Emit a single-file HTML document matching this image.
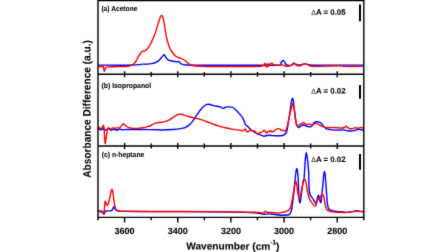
<!DOCTYPE html>
<html><head><meta charset="utf-8"><title>FTIR difference spectra</title>
<style>html,body{margin:0;padding:0;background:#fff;overflow:hidden}body{width:448px;height:252px}</style></head>
<body>
<svg width="448" height="252" viewBox="0 0 448 252" style="display:block">
<rect width="448" height="252" fill="#fff"/>
<defs><filter id="soft" x="0" y="0" width="448" height="252" filterUnits="userSpaceOnUse" color-interpolation-filters="sRGB"><feConvolveMatrix order="3" kernelMatrix="0.01134 0.08382 0.01134 0.08382 0.61935 0.08382 0.01134 0.08382 0.01134" divisor="1" edgeMode="duplicate" preserveAlpha="false"/></filter></defs>
<g filter="url(#soft)">
<g fill="none" stroke-width="1.4" stroke-linejoin="round" stroke-linecap="round">
<path d="M98.50 65.10 C101.37 65.11 115.44 65.21 120.00 65.20 C124.56 65.19 130.17 65.08 132.70 65.00 C135.23 64.92 137.64 64.72 139.00 64.60 C140.36 64.48 141.97 64.15 142.90 64.10 C143.83 64.05 145.16 64.23 146.00 64.20 C146.84 64.17 148.27 64.02 149.20 63.90 C150.13 63.78 151.99 63.58 153.00 63.30 C154.01 63.02 155.95 62.25 156.80 61.80 C157.65 61.35 158.80 60.45 159.40 59.90 C160.00 59.35 160.83 58.26 161.30 57.70 C161.77 57.14 162.53 56.09 162.90 55.70 C163.27 55.31 163.79 54.75 164.10 54.80 C164.41 54.85 164.81 55.54 165.20 56.10 C165.59 56.66 166.51 58.44 167.00 59.00 C167.49 59.56 168.39 60.06 168.90 60.30 C169.41 60.54 170.21 60.67 170.80 60.80 C171.39 60.93 172.61 61.19 173.30 61.30 C173.99 61.41 175.44 61.52 176.00 61.60 C176.56 61.68 177.17 61.93 177.50 61.90 C177.83 61.87 178.03 61.15 178.50 61.40 C178.97 61.65 180.00 63.27 181.00 63.75 C182.00 64.23 182.40 64.80 186.00 65.00 C189.60 65.20 199.47 65.22 208.00 65.25 C216.53 65.28 240.55 65.26 250.00 65.25 C259.45 65.24 274.79 65.46 278.90 65.20 C283.01 64.94 280.39 63.83 280.80 63.30 C281.21 62.77 281.71 61.59 282.00 61.20 C282.29 60.81 282.71 60.37 283.00 60.40 C283.29 60.43 283.83 60.92 284.20 61.40 C284.57 61.88 285.33 63.49 285.80 64.00 C286.27 64.51 286.94 65.04 287.70 65.20 C288.46 65.36 290.59 65.41 291.50 65.20 C292.41 64.99 293.65 63.63 294.50 63.60 C295.35 63.57 296.94 64.87 297.90 65.00 C298.86 65.13 300.77 64.79 301.70 64.60 C302.63 64.41 304.06 63.60 304.90 63.60 C305.74 63.60 307.05 64.39 308.00 64.60 C308.95 64.81 309.07 65.13 312.00 65.20 C314.93 65.27 323.13 65.11 330.00 65.10 C336.87 65.09 359.03 65.10 363.50 65.10" stroke="#0000ff"/>
<path d="M98.50 66.60 C99.03 66.60 101.87 66.73 102.50 66.60 C103.13 66.47 102.97 64.98 103.20 65.60 C103.43 66.22 103.94 70.93 104.25 71.25 C104.56 71.57 105.10 68.58 105.50 68.00 C105.90 67.42 105.98 67.07 107.25 66.90 C108.52 66.73 112.17 66.79 115.00 66.70 C117.83 66.61 126.14 66.43 128.50 66.20 C130.86 65.97 131.89 65.43 132.70 65.00 C133.51 64.57 134.09 63.63 134.60 63.00 C135.11 62.37 135.99 61.14 136.50 60.30 C137.01 59.46 137.89 57.61 138.40 56.70 C138.91 55.79 139.87 54.13 140.30 53.50 C140.73 52.87 141.25 52.31 141.60 52.00 C141.95 51.69 142.47 51.35 142.90 51.20 C143.33 51.05 144.39 51.05 144.80 50.90 C145.21 50.75 145.67 50.38 146.00 50.10 C146.33 49.82 146.95 49.19 147.30 48.80 C147.65 48.41 148.17 47.84 148.60 47.20 C149.03 46.56 149.68 45.69 150.50 44.00 C151.32 42.31 153.68 37.37 154.75 34.50 C155.82 31.63 157.73 24.89 158.50 22.50 C159.27 20.11 160.07 17.55 160.50 16.60 C160.93 15.65 161.42 15.28 161.75 15.40 C162.08 15.52 162.62 16.12 163.00 17.50 C163.38 18.88 164.11 22.98 164.60 25.75 C165.09 28.52 166.06 35.42 166.70 38.25 C167.34 41.08 168.69 45.17 169.40 47.00 C170.11 48.83 171.12 50.73 172.00 52.00 C172.88 53.27 174.97 55.70 176.00 56.50 C177.03 57.30 178.75 57.60 179.75 58.00 C180.75 58.40 182.50 58.90 183.50 59.50 C184.50 60.10 186.25 61.77 187.25 62.50 C188.25 63.23 189.83 64.53 191.00 65.00 C192.17 65.47 193.73 65.80 196.00 66.00 C198.27 66.20 202.13 66.43 208.00 66.50 C213.87 66.57 233.60 66.50 240.00 66.50 C246.40 66.50 253.20 66.53 256.00 66.50 C258.80 66.47 259.99 66.43 261.00 66.30 C262.01 66.17 263.08 65.90 263.60 65.50 C264.12 65.10 264.55 63.09 264.90 63.30 C265.25 63.51 265.89 67.05 266.20 67.10 C266.51 67.15 266.95 63.70 267.20 63.70 C267.45 63.70 267.85 67.10 268.10 67.10 C268.35 67.10 268.82 64.03 269.10 63.70 C269.38 63.37 269.83 64.65 270.20 64.60 C270.57 64.55 271.42 63.30 271.90 63.30 C272.38 63.30 272.87 64.35 273.80 64.60 C274.73 64.85 277.89 65.20 278.90 65.20 C279.91 65.20 280.81 64.60 281.40 64.60 C281.99 64.60 282.62 64.97 283.30 65.20 C283.98 65.43 285.57 66.21 286.50 66.30 C287.43 66.39 289.54 66.18 290.30 65.90 C291.06 65.62 291.69 64.59 292.20 64.20 C292.71 63.81 293.59 62.89 294.10 63.00 C294.61 63.11 295.49 64.61 296.00 65.00 C296.51 65.39 297.22 65.83 297.90 65.90 C298.58 65.97 300.17 65.79 301.10 65.50 C302.03 65.21 304.06 63.82 304.90 63.70 C305.74 63.58 306.72 64.31 307.40 64.60 C308.08 64.89 309.39 65.67 310.00 65.90 C310.61 66.13 310.67 66.23 312.00 66.30 C313.33 66.37 316.53 66.47 320.00 66.40 C323.47 66.33 334.67 65.80 338.00 65.80 C341.33 65.80 341.60 66.32 345.00 66.40 C348.40 66.48 361.03 66.40 363.50 66.40" stroke="#ff0000"/>
<path d="M98.30 128.70 C98.67 128.87 100.47 130.00 101.10 130.00 C101.73 130.00 102.49 128.67 103.00 128.70 C103.51 128.73 104.39 130.15 104.90 130.20 C105.41 130.25 106.29 129.30 106.80 129.10 C107.31 128.90 108.11 128.55 108.70 128.70 C109.29 128.85 110.52 130.12 111.20 130.20 C111.88 130.28 113.12 129.30 113.80 129.30 C114.48 129.30 115.54 130.20 116.30 130.20 C117.06 130.20 118.65 129.37 119.50 129.30 C120.35 129.23 121.61 129.67 122.70 129.70 C123.79 129.73 124.06 129.51 127.70 129.50 C131.34 129.49 145.33 129.53 150.00 129.60 C154.67 129.67 159.65 130.01 162.70 130.00 C165.75 129.99 170.53 129.69 172.90 129.50 C175.27 129.31 178.81 128.89 180.50 128.60 C182.19 128.31 184.51 127.73 185.60 127.30 C186.69 126.87 187.94 125.99 188.70 125.40 C189.46 124.81 190.62 123.66 191.30 122.90 C191.98 122.14 193.13 120.63 193.80 119.70 C194.47 118.77 195.62 116.91 196.30 115.90 C196.98 114.89 198.34 112.91 198.90 112.10 C199.46 111.29 200.10 110.32 200.50 109.80 C200.90 109.28 201.46 108.67 201.90 108.20 C202.34 107.73 203.21 106.77 203.80 106.30 C204.39 105.83 205.62 104.97 206.30 104.70 C206.98 104.43 208.05 104.21 208.90 104.30 C209.75 104.39 211.69 105.13 212.70 105.40 C213.71 105.67 215.49 106.10 216.50 106.30 C217.51 106.50 219.54 106.69 220.30 106.90 C221.06 107.11 221.77 107.70 222.20 107.90 C222.63 108.10 223.15 108.45 223.50 108.40 C223.85 108.35 224.29 107.70 224.80 107.50 C225.31 107.30 226.54 106.95 227.30 106.90 C228.06 106.85 229.74 107.02 230.50 107.10 C231.26 107.18 232.32 107.15 233.00 107.50 C233.68 107.85 234.92 109.07 235.60 109.70 C236.28 110.33 237.43 111.48 238.10 112.20 C238.77 112.92 240.01 114.37 240.60 115.10 C241.19 115.83 242.07 117.02 242.50 117.70 C242.93 118.38 243.51 119.52 243.80 120.20 C244.09 120.88 244.47 122.20 244.70 122.80 C244.93 123.40 245.17 124.26 245.50 124.70 C245.83 125.14 246.75 125.70 247.20 126.10 C247.65 126.50 248.34 127.14 248.90 127.70 C249.46 128.26 250.72 129.73 251.40 130.30 C252.08 130.87 253.32 131.60 254.00 132.00 C254.68 132.40 255.83 132.99 256.50 133.30 C257.17 133.61 258.32 134.03 259.00 134.30 C259.68 134.57 260.92 135.05 261.60 135.30 C262.28 135.55 263.59 136.13 264.10 136.20 C264.61 136.27 264.72 135.92 265.40 135.80 C266.08 135.68 268.19 135.33 269.20 135.30 C270.21 135.27 271.81 135.53 273.00 135.60 C274.19 135.67 276.91 135.80 278.10 135.80 C279.29 135.80 281.06 135.76 281.90 135.60 C282.74 135.44 283.85 134.95 284.40 134.60 C284.95 134.25 285.65 133.55 286.00 133.00 C286.35 132.45 286.77 131.34 287.00 130.50 C287.23 129.66 287.50 127.89 287.70 126.70 C287.90 125.51 288.29 122.96 288.50 121.60 C288.71 120.24 289.07 117.98 289.30 116.50 C289.53 115.02 289.92 112.49 290.20 110.50 C290.48 108.51 291.11 103.23 291.40 101.60 C291.69 99.97 292.15 98.45 292.40 98.30 C292.65 98.15 293.06 99.21 293.30 100.50 C293.54 101.79 293.96 105.99 294.20 108.00 C294.44 110.01 294.86 113.73 295.10 115.60 C295.34 117.47 295.76 120.68 296.00 122.00 C296.24 123.32 296.57 124.77 296.90 125.50 C297.23 126.23 297.95 127.43 298.50 127.50 C299.05 127.57 300.33 126.37 301.00 126.00 C301.67 125.63 302.83 124.75 303.50 124.75 C304.17 124.75 305.40 125.77 306.00 126.00 C306.60 126.23 307.40 126.38 308.00 126.50 C308.60 126.62 309.91 127.07 310.50 126.90 C311.09 126.73 311.89 125.80 312.40 125.20 C312.91 124.60 313.78 122.87 314.30 122.40 C314.82 121.93 315.62 121.73 316.30 121.70 C316.98 121.67 318.73 121.99 319.40 122.20 C320.07 122.41 320.79 122.81 321.30 123.30 C321.81 123.79 322.60 125.22 323.20 125.90 C323.80 126.58 325.12 127.93 325.80 128.40 C326.48 128.87 327.46 129.20 328.30 129.40 C329.14 129.60 330.91 129.81 332.10 129.90 C333.29 129.99 335.67 130.10 337.20 130.10 C338.73 130.10 342.24 129.82 343.60 129.90 C344.96 129.98 346.39 130.55 347.40 130.70 C348.41 130.85 350.19 131.05 351.20 131.00 C352.21 130.95 353.99 130.53 355.00 130.30 C356.01 130.07 357.96 129.38 358.80 129.30 C359.64 129.22 360.71 129.59 361.30 129.70 C361.89 129.81 362.95 130.05 363.20 130.10" stroke="#0000ff"/>
<path d="M98.30 127.20 C98.58 127.36 99.88 128.29 100.40 128.40 C100.92 128.51 101.80 128.44 102.20 128.00 C102.60 127.56 103.15 125.01 103.40 125.10 C103.65 125.19 103.87 126.27 104.10 128.70 C104.33 131.13 104.79 142.29 105.10 143.30 C105.41 144.31 106.09 138.07 106.40 136.30 C106.71 134.53 107.09 131.15 107.40 130.00 C107.71 128.85 108.35 127.83 108.70 127.70 C109.05 127.57 109.63 128.87 110.00 129.00 C110.37 129.13 111.09 128.87 111.50 128.70 C111.91 128.53 112.63 127.74 113.10 127.70 C113.57 127.66 114.48 128.40 115.00 128.40 C115.52 128.40 116.48 127.74 117.00 127.70 C117.52 127.66 118.39 128.22 118.90 128.10 C119.41 127.98 120.39 127.23 120.80 126.80 C121.21 126.37 121.67 125.33 122.00 124.90 C122.33 124.47 122.95 123.64 123.30 123.60 C123.65 123.56 124.17 124.23 124.60 124.60 C125.03 124.97 125.91 125.99 126.50 126.40 C127.09 126.81 128.16 127.43 129.00 127.70 C129.84 127.97 131.61 128.31 132.80 128.40 C133.99 128.49 136.54 128.48 137.90 128.40 C139.26 128.32 141.64 128.07 143.00 127.80 C144.36 127.53 147.17 126.64 148.10 126.40 C149.03 126.16 149.32 126.31 150.00 126.00 C150.68 125.69 152.36 124.51 153.20 124.10 C154.04 123.69 155.21 123.15 156.30 122.90 C157.39 122.65 160.12 122.41 161.40 122.20 C162.68 121.99 164.79 121.63 165.90 121.30 C167.01 120.97 168.69 120.26 169.70 119.70 C170.71 119.14 172.57 117.70 173.50 117.10 C174.43 116.50 175.86 115.59 176.70 115.20 C177.54 114.81 179.04 114.29 179.80 114.20 C180.56 114.11 181.63 114.30 182.40 114.50 C183.17 114.70 184.67 115.39 185.60 115.70 C186.53 116.01 188.23 116.49 189.40 116.80 C190.57 117.11 192.99 117.68 194.40 118.00 C195.81 118.32 198.41 118.73 200.00 119.20 C201.59 119.67 204.61 120.86 206.30 121.50 C207.99 122.14 211.01 123.37 212.70 124.00 C214.39 124.63 217.31 125.69 219.00 126.20 C220.69 126.71 223.71 127.41 225.40 127.80 C227.09 128.19 230.01 128.82 231.70 129.10 C233.39 129.38 236.99 129.74 238.10 129.90 C239.21 130.06 239.32 130.18 240.00 130.30 C240.68 130.42 242.49 130.97 243.20 130.80 C243.91 130.63 244.85 128.91 245.30 129.00 C245.75 129.09 246.20 131.13 246.60 131.50 C247.00 131.87 247.82 132.01 248.30 131.80 C248.78 131.59 249.69 129.99 250.20 129.90 C250.71 129.81 251.59 131.01 252.10 131.10 C252.61 131.19 253.49 130.43 254.00 130.60 C254.51 130.77 255.39 131.93 255.90 132.40 C256.41 132.87 257.29 134.05 257.80 134.10 C258.31 134.15 259.11 133.11 259.70 132.80 C260.29 132.49 261.61 132.13 262.20 131.80 C262.79 131.47 263.67 130.30 264.10 130.30 C264.53 130.30 265.05 131.44 265.40 131.80 C265.75 132.16 266.33 133.09 266.70 133.00 C267.07 132.91 267.84 131.27 268.20 131.10 C268.56 130.93 269.09 131.78 269.40 131.70 C269.71 131.62 270.19 130.46 270.50 130.50 C270.81 130.54 271.34 131.87 271.70 132.00 C272.06 132.13 272.77 131.73 273.20 131.50 C273.63 131.27 274.42 130.61 274.90 130.30 C275.38 129.99 276.29 129.43 276.80 129.20 C277.31 128.97 278.27 128.63 278.70 128.60 C279.13 128.57 279.65 128.75 280.00 129.00 C280.35 129.25 280.87 130.33 281.30 130.50 C281.73 130.67 282.79 130.25 283.20 130.30 C283.61 130.35 284.07 130.90 284.40 130.90 C284.73 130.90 285.35 130.78 285.70 130.30 C286.05 129.82 286.69 128.29 287.00 127.30 C287.31 126.31 287.69 124.34 288.00 122.90 C288.31 121.46 288.93 118.22 289.30 116.50 C289.67 114.78 290.43 111.53 290.80 110.00 C291.17 108.47 291.81 105.87 292.10 105.00 C292.39 104.13 292.75 103.10 293.00 103.50 C293.25 103.90 293.73 106.39 294.00 108.00 C294.27 109.61 294.75 113.75 295.00 115.60 C295.25 117.45 295.66 120.63 295.90 121.90 C296.14 123.17 296.52 124.55 296.80 125.10 C297.08 125.65 297.71 126.00 298.00 126.00 C298.29 126.00 298.60 125.38 299.00 125.10 C299.40 124.82 300.40 124.23 301.00 123.90 C301.60 123.57 302.91 122.60 303.50 122.60 C304.09 122.60 304.89 123.65 305.40 123.90 C305.91 124.15 306.71 124.50 307.30 124.50 C307.89 124.50 309.28 123.86 309.80 123.90 C310.32 123.94 310.85 124.63 311.20 124.80 C311.55 124.97 311.99 125.31 312.40 125.20 C312.81 125.09 313.78 124.28 314.30 124.00 C314.82 123.72 315.70 123.02 316.30 123.10 C316.90 123.18 318.04 124.17 318.80 124.60 C319.56 125.03 321.16 125.97 322.00 126.30 C322.84 126.63 324.26 126.90 325.10 127.10 C325.94 127.30 327.19 127.75 328.30 127.80 C329.41 127.85 332.04 127.50 333.40 127.50 C334.76 127.50 337.31 127.73 338.50 127.80 C339.69 127.87 341.53 128.04 342.30 128.00 C343.07 127.96 343.79 127.75 344.30 127.50 C344.81 127.25 345.61 126.06 346.10 126.10 C346.59 126.14 347.41 127.44 348.00 127.80 C348.59 128.16 349.82 128.71 350.50 128.80 C351.18 128.89 352.42 128.63 353.10 128.50 C353.78 128.37 354.92 127.84 355.60 127.80 C356.28 127.76 357.52 128.24 358.20 128.20 C358.88 128.16 360.03 127.55 360.70 127.50 C361.37 127.45 362.87 127.76 363.20 127.80" stroke="#ff0000"/>
<path d="M98.30 211.50 C98.83 211.57 101.49 211.63 102.25 212.00 C103.01 212.37 103.65 214.22 104.00 214.25 C104.35 214.28 104.61 212.63 104.90 212.20 C105.19 211.77 105.69 211.17 106.20 211.00 C106.71 210.83 107.94 210.98 108.70 210.90 C109.46 210.82 111.31 210.77 111.90 210.40 C112.49 210.03 112.83 208.61 113.10 208.10 C113.37 207.59 113.68 206.55 113.90 206.60 C114.12 206.65 114.47 208.05 114.75 208.50 C115.03 208.95 115.57 209.67 116.00 210.00 C116.43 210.33 117.28 210.81 118.00 211.00 C118.72 211.19 117.13 211.32 121.40 211.40 C125.67 211.48 142.19 211.57 150.00 211.60 C157.81 211.63 168.53 211.53 180.00 211.60 C191.47 211.67 226.00 211.93 236.00 212.10 C246.00 212.27 251.61 212.67 255.00 212.90 C258.39 213.13 260.21 213.61 261.40 213.80 C262.59 213.99 262.89 214.29 263.90 214.30 C264.91 214.31 267.64 213.89 269.00 213.90 C270.36 213.91 272.58 214.23 274.10 214.40 C275.62 214.57 278.71 215.12 280.40 215.20 C282.09 215.28 285.57 215.11 286.80 215.00 C288.03 214.89 289.07 214.72 289.60 214.40 C290.13 214.08 290.52 213.32 290.80 212.60 C291.08 211.88 291.46 210.32 291.70 209.00 C291.94 207.68 292.35 204.55 292.60 202.70 C292.85 200.85 293.25 198.33 293.60 195.10 C293.95 191.87 294.87 181.71 295.20 178.50 C295.53 175.29 295.87 172.32 296.10 171.00 C296.33 169.68 296.70 168.47 296.90 168.60 C297.10 168.73 297.43 170.68 297.60 172.00 C297.77 173.32 298.04 175.43 298.20 178.50 C298.36 181.57 298.60 191.77 298.80 195.00 C299.00 198.23 299.46 202.02 299.70 202.70 C299.94 203.38 300.32 201.63 300.60 200.10 C300.88 198.57 301.47 193.73 301.80 191.20 C302.13 188.67 302.79 182.79 303.10 181.10 C303.41 179.41 303.87 180.38 304.10 178.50 C304.33 176.62 304.63 169.71 304.80 167.00 C304.97 164.29 305.20 160.15 305.40 158.20 C305.60 156.25 306.05 152.40 306.30 152.40 C306.55 152.40 306.99 155.73 307.30 158.20 C307.61 160.67 308.37 167.17 308.60 170.90 C308.83 174.63 308.84 183.15 309.00 186.20 C309.16 189.25 309.52 192.45 309.80 193.80 C310.08 195.15 310.70 195.67 311.10 196.30 C311.50 196.93 312.37 197.82 312.80 198.50 C313.23 199.18 313.93 200.77 314.30 201.40 C314.67 202.03 315.31 203.12 315.60 203.20 C315.89 203.28 316.22 202.83 316.50 202.00 C316.78 201.17 317.42 197.89 317.70 197.00 C317.98 196.11 318.35 194.97 318.60 195.30 C318.85 195.63 319.33 198.51 319.60 199.50 C319.87 200.49 320.37 202.62 320.60 202.70 C320.83 202.78 321.09 201.63 321.30 200.10 C321.51 198.57 321.95 193.73 322.20 191.20 C322.45 188.67 323.01 183.13 323.20 181.10 C323.39 179.07 323.44 177.28 323.60 176.00 C323.76 174.72 324.17 171.50 324.40 171.50 C324.63 171.50 325.09 174.04 325.30 176.00 C325.51 177.96 325.81 183.67 326.00 186.20 C326.19 188.73 326.51 192.64 326.70 195.00 C326.89 197.36 327.13 202.06 327.40 203.90 C327.67 205.74 328.19 207.95 328.70 208.80 C329.21 209.65 330.36 209.97 331.20 210.30 C332.04 210.63 333.64 211.10 335.00 211.30 C336.36 211.50 339.87 211.65 341.40 211.80 C342.93 211.95 345.14 212.43 346.50 212.40 C347.86 212.37 350.25 211.81 351.60 211.60 C352.95 211.39 355.43 210.83 356.60 210.80 C357.77 210.77 359.47 211.29 360.40 211.40 C361.33 211.51 363.17 211.57 363.60 211.60" stroke="#0000ff"/>
<path d="M98.30 211.00 C98.75 211.00 101.10 210.87 101.70 211.00 C102.30 211.13 102.55 211.57 102.80 212.00 C103.05 212.43 103.39 214.55 103.60 214.20 C103.81 213.85 104.23 210.89 104.40 209.40 C104.57 207.91 104.78 204.11 104.90 203.00 C105.02 201.89 105.13 201.01 105.30 201.10 C105.47 201.19 105.95 203.14 106.20 203.70 C106.45 204.26 106.91 205.39 107.20 205.30 C107.49 205.21 108.07 203.97 108.40 203.00 C108.73 202.03 109.35 199.52 109.70 198.00 C110.05 196.48 110.71 192.76 111.00 191.60 C111.29 190.44 111.66 189.30 111.90 189.30 C112.14 189.30 112.55 190.28 112.80 191.60 C113.05 192.92 113.53 197.25 113.80 199.20 C114.07 201.15 114.51 204.84 114.80 206.20 C115.09 207.56 115.55 208.80 116.00 209.40 C116.45 210.00 117.48 210.46 118.20 210.70 C118.92 210.94 117.16 211.09 121.40 211.20 C125.64 211.31 142.19 211.46 150.00 211.50 C157.81 211.54 168.53 211.45 180.00 211.50 C191.47 211.55 226.84 211.81 236.00 211.90 C245.16 211.99 245.65 212.13 248.70 212.20 C251.75 212.27 256.95 212.28 258.90 212.40 C260.85 212.52 262.54 213.17 263.30 213.10 C264.06 213.03 264.27 212.15 264.60 211.90 C264.93 211.65 265.47 211.12 265.80 211.20 C266.13 211.28 266.33 212.33 267.10 212.50 C267.87 212.67 270.49 212.46 271.60 212.50 C272.71 212.54 274.39 212.72 275.40 212.80 C276.41 212.88 278.19 213.17 279.20 213.10 C280.21 213.03 281.99 212.55 283.00 212.30 C284.01 212.05 285.96 211.55 286.80 211.20 C287.64 210.85 288.79 210.23 289.30 209.70 C289.81 209.17 290.28 208.13 290.60 207.20 C290.92 206.27 291.38 204.15 291.70 202.70 C292.02 201.25 292.61 198.67 293.00 196.30 C293.39 193.93 294.25 186.90 294.60 184.90 C294.95 182.90 295.35 181.47 295.60 181.30 C295.85 181.13 296.21 182.11 296.50 183.60 C296.79 185.09 297.47 190.55 297.80 192.50 C298.13 194.45 298.69 197.60 299.00 198.20 C299.31 198.80 299.75 198.09 300.10 197.00 C300.45 195.91 301.23 191.79 301.60 190.00 C301.97 188.21 302.57 184.96 302.90 183.60 C303.23 182.24 303.82 180.33 304.10 179.80 C304.38 179.27 304.75 179.27 305.00 179.60 C305.25 179.93 305.69 180.91 306.00 182.30 C306.31 183.69 306.95 188.13 307.30 190.00 C307.65 191.87 308.17 194.86 308.60 196.30 C309.03 197.74 309.99 199.87 310.50 200.80 C311.01 201.73 311.89 202.63 312.40 203.30 C312.91 203.97 313.87 205.47 314.30 205.80 C314.73 206.13 315.29 206.13 315.60 205.80 C315.91 205.47 316.35 204.14 316.60 203.30 C316.85 202.46 317.29 200.18 317.50 199.50 C317.71 198.82 317.97 198.20 318.20 198.20 C318.43 198.20 318.91 199.66 319.20 199.50 C319.49 199.34 320.07 197.63 320.40 197.00 C320.73 196.37 321.41 195.15 321.70 194.80 C321.99 194.45 322.32 194.16 322.60 194.40 C322.88 194.64 323.51 195.52 323.80 196.60 C324.09 197.68 324.48 200.93 324.80 202.50 C325.12 204.07 325.76 207.32 326.20 208.40 C326.64 209.48 327.43 210.17 328.10 210.60 C328.77 211.03 330.11 211.39 331.20 211.60 C332.29 211.81 334.94 212.11 336.30 212.20 C337.66 212.29 340.04 212.25 341.40 212.30 C342.76 212.35 345.14 212.67 346.50 212.60 C347.86 212.53 350.25 212.00 351.60 211.80 C352.95 211.60 355.43 211.13 356.60 211.10 C357.77 211.07 359.47 211.51 360.40 211.60 C361.33 211.69 363.17 211.77 363.60 211.80" stroke="#ff0000"/>
</g>
<g stroke="#000" stroke-width="1.4" fill="none" stroke-linecap="butt">
<path d="M98.0 0 V218.15 M363.8 0 V218.15 M97.25 0.5 H364.55 M98.0 74.3 H363.8 M98.0 146.0 H363.8 M97.25 217.4 H364.55"/>
<path d="M98.00 217.4 V220.3 M124.58 71.3 V77.3 M124.58 143.0 V149.0 M124.58 217.4 V222.4 M151.16 71.89999999999999 V76.7 M151.16 143.6 V148.4 M151.16 217.4 V220.3 M177.74 71.3 V77.3 M177.74 143.0 V149.0 M177.74 217.4 V222.4 M204.32 71.89999999999999 V76.7 M204.32 143.6 V148.4 M204.32 217.4 V220.3 M230.90 71.3 V77.3 M230.90 143.0 V149.0 M230.90 217.4 V222.4 M257.48 71.89999999999999 V76.7 M257.48 143.6 V148.4 M257.48 217.4 V220.3 M284.06 71.3 V77.3 M284.06 143.0 V149.0 M284.06 217.4 V222.4 M310.64 71.89999999999999 V76.7 M310.64 143.6 V148.4 M310.64 217.4 V220.3 M337.22 71.3 V77.3 M337.22 143.0 V149.0 M337.22 217.4 V222.4 M363.80 217.4 V220.3"/>
</g>
<g stroke="#000" stroke-width="2" fill="none">
<path d="M360 4.5 V21.3 M360 85 V98.8 M360 154 V169.8"/>
</g>
<g font-family="'Liberation Sans', Arial, sans-serif" font-weight="bold" fill="#000" stroke="#000" stroke-width="0.9" stroke-linejoin="round">
<text transform="translate(124.58 234.1) rotate(0.03) scale(0.1)" font-size="90.0" text-anchor="middle">3600</text>
<text transform="translate(177.74 234.1) rotate(0.03) scale(0.1)" font-size="90.0" text-anchor="middle">3400</text>
<text transform="translate(230.9 234.1) rotate(0.03) scale(0.1)" font-size="90.0" text-anchor="middle">3200</text>
<text transform="translate(284.06 234.1) rotate(0.03) scale(0.1)" font-size="90.0" text-anchor="middle">3000</text>
<text transform="translate(337.22 234.1) rotate(0.03) scale(0.1)" font-size="90.0" text-anchor="middle">2800</text>
<text transform="translate(186.2 249.6) rotate(0.03) scale(0.1)" font-size="102.0" textLength="932.0" lengthAdjust="spacingAndGlyphs">Wavenumber (cm<tspan dy="-52" font-size="64">-1</tspan><tspan dy="52">)</tspan></text>
<text transform="translate(90.65 177.7) rotate(-90.03) scale(0.1)" font-size="108.0" textLength="1375.0" lengthAdjust="spacingAndGlyphs">Absorbance Difference (a.u.)</text>
<text transform="translate(101.4 11.15) rotate(0.03) scale(0.1)" font-size="73.0" textLength="360.0" lengthAdjust="spacingAndGlyphs">(a) Acetone</text>
<text transform="translate(101.6 88.15) rotate(0.03) scale(0.1)" font-size="73.0" textLength="495.0" lengthAdjust="spacingAndGlyphs">(b) Isopropanol</text>
<text transform="translate(101.7 156.75) rotate(0.03) scale(0.1)" font-size="73.0" textLength="426.0" lengthAdjust="spacingAndGlyphs">(c) n-heptane</text>
<text transform="translate(311.3 14.8) rotate(0.03) scale(0.1)" font-size="79.0" textLength="343.0" lengthAdjust="spacingAndGlyphs"><tspan font-weight="normal" font-size="70" stroke="none">Δ</tspan>A = 0.05</text>
<text transform="translate(311.3 93.5) rotate(0.03) scale(0.1)" font-size="79.0" textLength="343.0" lengthAdjust="spacingAndGlyphs"><tspan font-weight="normal" font-size="70" stroke="none">Δ</tspan>A = 0.02</text>
<text transform="translate(311.3 162.1) rotate(0.03) scale(0.1)" font-size="79.0" textLength="343.0" lengthAdjust="spacingAndGlyphs"><tspan font-weight="normal" font-size="70" stroke="none">Δ</tspan>A = 0.02</text>
</g>
</g>
</svg>
</body></html>
